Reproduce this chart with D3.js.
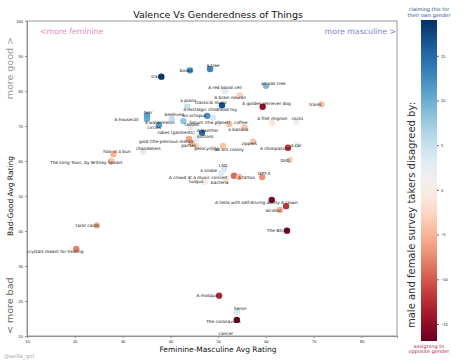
<!DOCTYPE html>
<html>
<head>
<meta charset="utf-8">
<script src="https://cdn.jsdelivr.net/npm/d3@7"></script>
<style>
  body { margin: 0; background: #fff; }
  svg { font-family: "DejaVu Sans", sans-serif; }
</style>
</head>
<body>
<svg id="chart" width="474" height="364"></svg>
<script>
// things people rated
var things = ["star", "books", "A tree", "an oak tree", "A red blood cell", "A brain neuron",
  "classical music", "a piano", "a nostalgic childhood toy", "An octopus", "Saturn (the planet)",
  "coffee", "a banana", "A panther", "buttons", "robes (garments)", "gold (the precious metal)",
  "parties", "pelocycling", "an ant colony", "zippers", "A chimpanzee", "a car", "DnD",
  "A golden retriever dog", "A filet mignon", "rocks", "trains", "A housecat", "fear", "beehives",
  "a watermelon", "circles", "tassels", "chandeliers", "hair in a bun",
  "The song Toxic, by Britney Spears", "tarot cards", "crystals meant for healing", "LSD",
  "a snake", "A crowd at a music concert", "fungus", "bacteria", "a tattoo", "GPT-4",
  "A tesla with self-driving ability", "A clown", "alcohol", "The Bitch", "A mosquito", "heron",
  "The coronavirus", "cancer"];
// Feminine-Masculine avg rating
var femMasc = [38.1, 44.1, 48.3, 60.0, 51.4, 54.5, 50.8, 43.5, 48.9, 47.7, 50.0,
  52.3, 55.5, 46.6, 45.4, 43.9, 44.5, 45.4, 49.1, 51.0, 57.3, 64.6, 66.5, 65.0,
  59.3, 61.3, 66.3, 71.6, 35.1, 35.1, 40.3, 42.7, 37.6, 44.2, 34.3, 28.1,
  27.6, 24.6, 20.3, 51.2, 50.6, 53.3, 47.2, 51.6, 54.4, 59.2,
  61.2, 64.2, 62.9, 64.4, 50.2, 53.9, 53.9, 51.6];
// Bad-Good avg rating
var badGood = [84.1, 85.9, 86.3, 81.5, 80.0, 78.7, 75.9, 75.5, 72.4, 72.9, 70.6,
  70.6, 69.6, 68.1, 66.3, 66.3, 65.0, 64.3, 63.4, 64.3, 65.5, 63.8, 64.4, 60.3,
  75.5, 70.9, 71.2, 76.2, 72.0, 73.0, 72.0, 71.4, 70.3, 69.7, 62.7, 62.0,
  60.0, 41.6, 34.9, 57.7, 56.6, 55.8, 54.0, 54.6, 55.4, 55.4,
  48.9, 47.1, 46.0, 40.1, 21.5, 16.9, 14.6, 8.9];
// how much male and female raters disagreed
var disagree = [18.5, 12, 13, 9, 3, -3, 17, 5, 4, 12, 1,
  -4, -4, 15, 2, -6, -5, -3, 1, -4, -4, -12, 3, -3,
  -15, -1, 2, -4, 10, 11, 5, 8, 11, 3, 3, -5,
  -4, -5, -8, 4, 3, -9, 0, -1, -5, -7,
  -16, -12, -5, -16, -12, 4, -17, 2];
// where each label sits, in rating units
var labelX = [36.8, 43.3, 48.9, 61.5, 51.4, 52.5, 48.5, 43.7, 48.3, 45.0, 48.2,
  54.7, 54.2, 47.8, 47.3, 41.2, 39.1, 43.8, 47.6, 52.3, 56.5, 61.9, 66.3, 64.0,
  60.1, 61.3, 66.6, 70.3, 30.8, 35.3, 40.8, 37.8, 36.6, 44.5, 35.4, 28.8,
  22.4, 22.6, 15.9, 51.0, 48.0, 45.8, 45.4, 50.3, 55.9, 59.6,
  56.1, 64.9, 61.5, 62.3, 48.0, 54.6, 51.1, 51.6];
var labelY = [84.0, 85.9, 87.1, 82.1, 81.0, 78.1, 76.6, 77.2, 74.6, 72.9, 70.9,
  70.9, 68.9, 68.7, 66.9, 68.0, 65.4, 64.3, 63.4, 63.1, 64.9, 63.4, 64.3, 60.0,
  76.3, 72.1, 72.0, 76.0, 71.7, 73.7, 73.3, 70.9, 69.5, 70.4, 63.4, 62.7,
  59.5, 41.5, 34.0, 58.7, 57.1, 55.2, 54.0, 53.9, 55.1, 56.3,
  48.1, 48.1, 45.8, 40.0, 21.4, 17.7, 14.0, 10.6];

var xTicks = [10, 20, 30, 40, 50, 60, 70, 80];
var yTicks = [10, 20, 30, 40, 50, 60, 70, 80, 90, 100];
var cTicks = [-15, -10, -5, 0, 5, 10, 15];

var svg = d3.select("#chart");
var plotL = 27, plotR = 397, plotT = 21, plotB = 336;

var x = d3.scaleLinear().domain([10, 87.4]).range([plotL, plotR]);
var y = d3.scaleLinear().domain([10, 100]).range([plotB, plotT]);
var color = d3.scaleSequential(d3.interpolateRdBu).domain([-16.9, 19]);

var rows = things.map(function(t, i) {
    return {name: t, fx: femMasc[i], fy: badGood[i], c: disagree[i], lx: labelX[i], ly: labelY[i]};
});

svg.append("clipPath").attr("id", "plotclip")
    .append("rect")
    .attr("x", plotL).attr("y", plotT)
    .attr("width", plotR - plotL).attr("height", plotB - plotT);

// axes
var xAxis = d3.axisBottom(x).tickValues(xTicks).tickSize(2).tickPadding(2);
var yAxis = d3.axisLeft(y).tickValues(yTicks).tickSize(2).tickPadding(2);

svg.append("g").attr("transform", "translate(0," + plotB + ")").call(xAxis);
svg.append("g").attr("transform", "translate(" + plotL + ",0)").call(yAxis);
svg.selectAll(".tick text").style("font-size", "4px").style("fill", "#222");
svg.selectAll(".domain, .tick line").attr("stroke", "#888");

svg.append("rect")
    .attr("x", plotL).attr("y", plotT)
    .attr("width", plotR - plotL).attr("height", plotB - plotT)
    .attr("fill", "none").attr("stroke", "#999").attr("stroke-width", 1);

// dots
svg.append("g").attr("clip-path", "url(#plotclip)")
    .selectAll("circle")
    .data(rows)
    .enter()
    .append("circle")
    .attr("cx", function(d) { return x(d.fx); })
    .attr("cy", function(d) { return y(d.fy); })
    .attr("r", 3.2)
    .attr("fill", function(d) { return color(d.c); });

// labels
svg.append("g")
    .selectAll("text")
    .data(rows)
    .enter()
    .append("text")
    .attr("x", function(d) { return x(d.lx); })
    .attr("y", function(d) { return y(d.ly); })
    .attr("text-anchor", "middle")
    .attr("dominant-baseline", "middle")
    .style("font-size", "4.3px")
    .style("fill", "#111")
    .text(function(d) { return d.name; });

// titles and hints
svg.append("text").attr("x", 218).attr("y", 18)
    .attr("text-anchor", "middle")
    .style("font-size", "9.5px").style("fill", "#111")
    .text("Valence Vs Genderedness of Things");

svg.append("text").attr("x", 40).attr("y", 34)
    .style("font-size", "7.8px").style("fill", "#e08cc0")
    .text("<more feminine");
svg.append("text").attr("x", 396).attr("y", 34)
    .attr("text-anchor", "end")
    .style("font-size", "7.8px").style("fill", "#7b7fd0")
    .text("more masculine >");

svg.append("text").attr("x", 218).attr("y", 352)
    .attr("text-anchor", "middle")
    .style("font-size", "7.5px").style("fill", "#111")
    .text("Feminine-Masculine Avg Rating");

svg.append("text").attr("transform", "translate(13,196) rotate(-90)")
    .attr("text-anchor", "middle")
    .style("font-size", "7.5px").style("fill", "#111")
    .text("Bad-Good Avg Rating");

svg.append("text").attr("transform", "translate(13,37) rotate(-90)")
    .attr("text-anchor", "end")
    .style("font-size", "9.5px").style("fill", "#999")
    .text("more good >");
svg.append("text").attr("transform", "translate(13,334) rotate(-90)")
    .attr("text-anchor", "start")
    .style("font-size", "9.5px").style("fill", "#666")
    .text("< more bad");

svg.append("text").attr("x", 4).attr("y", 358)
    .style("font-size", "5.5px").style("fill", "#aaa")
    .text("@aella_girl");

// colour bar
var cbX = 421, cbW = 16;
var cy = d3.scaleLinear().domain(color.domain()).range([341, 20]);

var grad = svg.append("defs").append("linearGradient")
    .attr("id", "cbgrad").attr("x1", 0).attr("y1", 1).attr("x2", 0).attr("y2", 0);
d3.range(0, 1.0001, 0.05).forEach(function(t) {
    grad.append("stop")
        .attr("offset", t)
        .attr("stop-color", d3.interpolateRdBu(t));
});
svg.append("rect")
    .attr("x", cbX).attr("y", cy.range()[1])
    .attr("width", cbW).attr("height", cy.range()[0] - cy.range()[1])
    .attr("fill", "url(#cbgrad)");

var cAxis = d3.axisRight(cy).tickValues(cTicks).tickSize(2).tickPadding(2)
    .tickFormat(function(d) { return d < 0 ? "\u2212" + (-d) : d; });
var cg = svg.append("g").attr("transform", "translate(" + (cbX + cbW) + ",0)").call(cAxis);
cg.select(".domain").remove();
cg.selectAll(".tick line").attr("stroke", "#666");
cg.selectAll(".tick text").style("font-size", "4px").style("fill", "#222");

svg.append("text").attr("transform", "translate(415,215) rotate(-90)")
    .attr("text-anchor", "middle")
    .style("font-size", "10px").style("fill", "#333")
    .text("male and female survey takers disagreed by:");

svg.append("text").attr("x", 429).attr("y", 11)
    .attr("text-anchor", "middle")
    .style("font-size", "5px").style("fill", "#2b4f86")
    .text("claiming this for");
svg.append("text").attr("x", 429).attr("y", 16.5)
    .attr("text-anchor", "middle")
    .style("font-size", "5px").style("fill", "#2b4f86")
    .text("their own gender");
svg.append("text").attr("x", 429).attr("y", 347.5)
    .attr("text-anchor", "middle")
    .style("font-size", "5px").style("fill", "#b5294e")
    .text("assigning to");
svg.append("text").attr("x", 429).attr("y", 353)
    .attr("text-anchor", "middle")
    .style("font-size", "5px").style("fill", "#b5294e")
    .text("opposite gender");
</script>
</body>
</html>
